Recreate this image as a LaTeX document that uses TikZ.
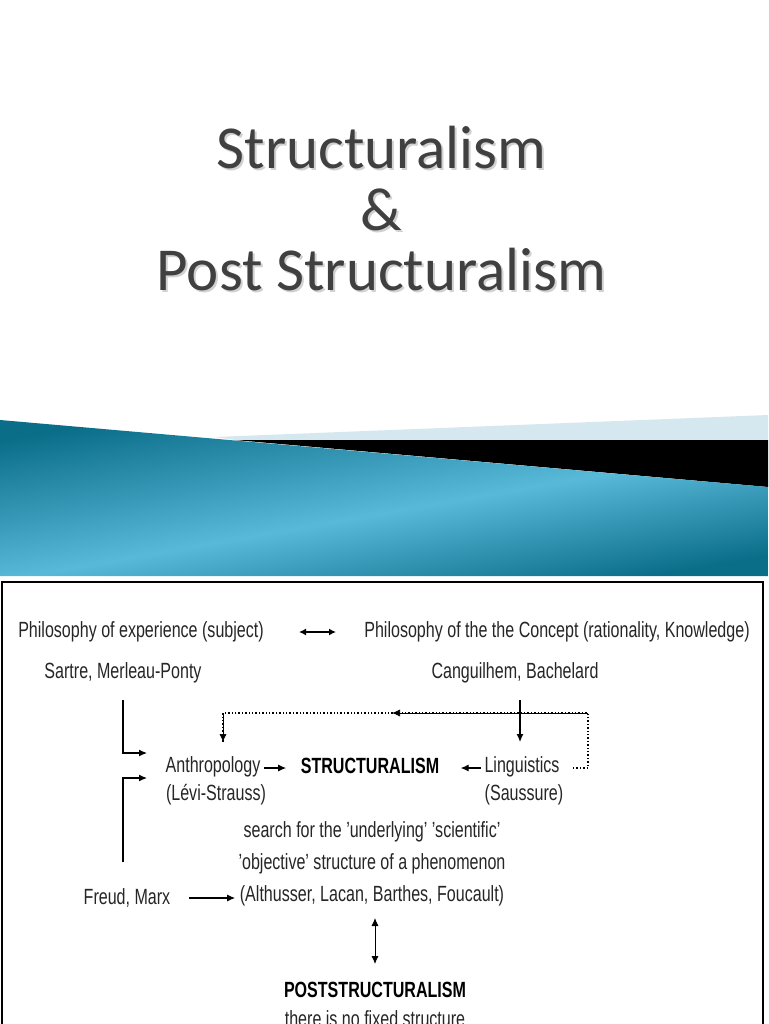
\documentclass[tikz,border=0pt]{standalone}
\usepackage{fontspec}
\setmainfont{Liberation Sans}
\newfontfamily\titlefont{Carlito}
\usetikzlibrary{arrows.meta}
\definecolor{bandDark}{HTML}{0B6E89}
\definecolor{bandLight}{HTML}{58B9D9}
\definecolor{stripe}{HTML}{D6E8EF}
\definecolor{titlegray}{HTML}{404040}
\pgfdeclarehorizontalshading{bannershade}{100bp}{color(0bp)=(bandDark); color(25bp)=(bandDark); color(47bp)=(bandLight); color(75bp)=(bandDark); color(100bp)=(bandDark)}
\tikzset{
  ttl/.style={font=\titlefont\fontsize{61}{66}\selectfont, text=titlegray},
  ttlsh/.style={font=\titlefont\fontsize{61}{66}\selectfont, text=black!18},
  lbl/.style={font=\fontsize{22}{24}\selectfont, xscale=0.73, inner sep=1pt, text=black!85},
  blbl/.style={font=\bfseries\fontsize{22}{24}\selectfont, xscale=0.73, inner sep=1pt},
  arr/.style={-{Latex[length=8pt,width=7pt]}, line width=1.2pt},
  thin/.style={line width=0.8pt},
  dots/.style={dotted, line width=1.4pt}
}
\begin{document}
\begin{tikzpicture}[x=1pt,y=-1pt]
\useasboundingbox (0,0) rectangle (768,1024);
\clip (0,0) rectangle (768,1024);
\fill[white] (0,0) rectangle (768,1024);
% title
\foreach \t/\yy in {Structuralism/148,\&/210,Post Structuralism/270}{
  \node[ttlsh] at (383.5,\yy+2) {\t};
  \node[ttl] at (381.5,\yy) {\t};
}
% banner
\fill[stripe] (215,437) -- (768,415) -- (768,440) -- (235,440) -- cycle;
\fill[black] (235,440) -- (768,440) -- (768,487) -- cycle;
\shade[shading=bannershade, shading angle=100] (0,420) -- (768,487) -- (768,576) -- (0,576) -- cycle;
% frame
\draw[line width=1.5pt] (2,582) rectangle (763,1030);
% nodes
\node[lbl] (pe) at (141,632) {Philosophy of experience (subject)};
\node[lbl] (pc) at (557,632) {Philosophy of the the Concept (rationality, Knowledge)};
\node[lbl] (sm) at (123,673) {Sartre, Merleau-Ponty};
\node[lbl] (cb) at (515,673) {Canguilhem, Bachelard};
\node[lbl] (an) at (213,767) {Anthropology};
\node[lbl] (ls) at (216,795) {(L\'evi-Strauss)};
\node[blbl] (st) at (370,766) {STRUCTURALISM};
\node[lbl] (li) at (522,767) {Linguistics};
\node[lbl] (sa) at (524,795) {(Saussure)};
\node[lbl, align=center, font=\fontsize{22}{32}\selectfont] (se) at (372,864) {search for the 'underlying' 'scientific'\\'objective' structure of a phenomenon\\(Althusser, Lacan, Barthes, Foucault)};
\node[lbl] (fm) at (127,898) {Freud, Marx};
\node[blbl] (ps) at (375,990) {POSTSTRUCTURALISM};
\node[lbl] (nf) at (375,1019) {there is no fixed structure};
% coordinates
\coordinate (a1) at (299,632); \coordinate (a2) at (336,632);
\coordinate (s1) at (123,700); \coordinate (s2) at (123,753); \coordinate (s3) at (147,753);
\coordinate (f1) at (123,862); \coordinate (f2) at (123,778); \coordinate (f3) at (147,778);
\coordinate (c1) at (520,700); \coordinate (c2) at (520,742);
\coordinate (d1) at (573,768); \coordinate (d2) at (588,768); \coordinate (d3) at (588,713);
\coordinate (d4) at (223,713); \coordinate (d5) at (223,742); \coordinate (dm) at (392,713);
\coordinate (v1) at (375,918); \coordinate (v2) at (375,964);
% connectors
\draw[{Latex[length=7pt,width=7pt]}-{Latex[length=7pt,width=7pt]}, line width=1.5pt] (a1) -- (a2);
\draw[thin, arr] (s1) -- (s2) -- (s3);
\draw[thin, arr] (f1) -- (f2) -- (f3);
\draw[thin, arr] (c1) -- (c2);
\draw[dots] (d1) -- (d2) -- (d3) -- (d4) -- (d5);
\draw[-{Latex[length=8pt,width=7pt]}, line width=0.6pt] (d3) -- (dm);
\draw[-{Latex[length=8pt,width=7pt]}, line width=0.6pt] (d4) -- (d5);
\draw[arr] (an.east) ++(3,1) -- ++(22,0);
\draw[arr] (li.west) ++(-3,1) -- ++(-20,0);
\draw[arr] (fm.east) ++(18,0) -- ++(46,0);
\draw[{Latex[length=8pt,width=7pt]}-{Latex[length=8pt,width=7pt]}, thin] (v1) -- (v2);
\end{tikzpicture}
\end{document}
